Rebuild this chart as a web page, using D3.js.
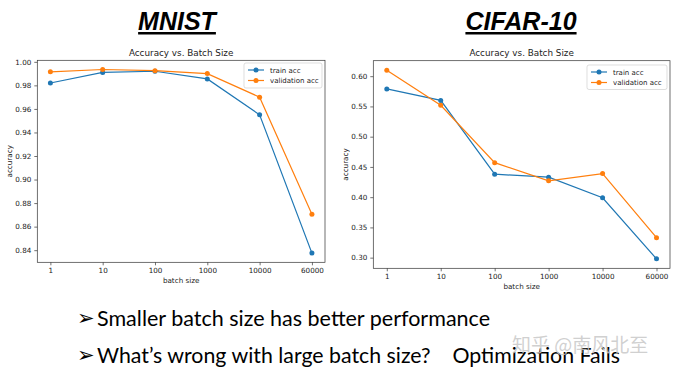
<!DOCTYPE html>
<html lang="en">
<head>
<meta charset="UTF-8">
<title>Accuracy vs. Batch Size</title>
<script src="https://d3js.org/d3.v7.min.js"></script>
<style>
  body { margin: 0; background: #fff; }
  svg { display: block; }
  .mpl text { font-family: "DejaVu Sans", sans-serif; fill: #222; }
</style>
</head>
<body>
<div id="chart"></div>
<script>
// batch sizes shared by both panels
const batchSizes = ["1", "10", "100", "1000", "10000", "60000"];

// MNIST
const mnistTrain = [0.982, 0.991, 0.992, 0.9855, 0.955, 0.8375];
const mnistVal = [0.9915, 0.9935, 0.9925, 0.990, 0.970, 0.8705];
const mnistTicks = [0.84, 0.86, 0.88, 0.90, 0.92, 0.94, 0.96, 0.98, 1.00];

// CIFAR-10
const cifarTrain = [0.579, 0.560, 0.438, 0.433, 0.399, 0.298];
const cifarVal = [0.610, 0.552, 0.457, 0.427, 0.439, 0.333];
const cifarTicks = [0.30, 0.35, 0.40, 0.45, 0.50, 0.55, 0.60];

const seriesNames = ["train acc", "validation acc"];
const colors = ["#1f77b4", "#ff7f0e"];

const W = 678, H = 372;
const svg = d3.select("#chart").append("svg")
    .attr("width", W).attr("height", H);

// one matplotlib-style panel
function drawPanel(box, train, val, ticks, legendBox) {
    const g = svg.append("g").attr("class", "mpl");

    // matplotlib autoscale: 5% margin on both axes
    const allVals = train.concat(val);
    const lo = d3.min(allVals), hi = d3.max(allVals), pad = (hi - lo) * 0.05;
    const step = (box.right - box.left) / 5.5;

    const x = d3.scalePoint().domain(batchSizes)
        .range([box.left + step * 0.25, box.right - step * 0.25]);
    const y = d3.scaleLinear().domain([lo - pad, hi + pad])
        .range([box.bottom, box.top]);

    // axes
    const xAxis = g.append("g")
        .attr("transform", `translate(0,${box.bottom})`)
        .call(d3.axisBottom(x).tickSize(3).tickPadding(3));
    const yAxis = g.append("g")
        .attr("transform", `translate(${box.left},0)`)
        .call(d3.axisLeft(y).tickValues(ticks).tickFormat(d3.format(".2f")).tickSize(3).tickPadding(3));
    [xAxis, yAxis].forEach(a => {
        a.select(".domain").remove();
        a.selectAll("line").attr("stroke", "#333").attr("stroke-width", 0.7);
        a.selectAll("text").style("font-size", "7.2px")
            .style("font-family", "'DejaVu Sans', sans-serif").attr("fill", "#222");
    });

    // frame
    g.append("rect")
        .attr("x", box.left).attr("y", box.top)
        .attr("width", box.right - box.left).attr("height", box.bottom - box.top)
        .attr("fill", "none").attr("stroke", "#333").attr("stroke-width", 0.7);

    // title and labels
    const cx = (box.left + box.right) / 2;
    g.append("text").attr("x", cx).attr("y", box.top - 4.5)
        .attr("text-anchor", "middle").style("font-size", "8.8px")
        .text("Accuracy vs. Batch Size");
    g.append("text").attr("x", cx).attr("y", box.bottom + 21)
        .attr("text-anchor", "middle").style("font-size", "7.2px")
        .text("batch size");
    g.append("text")
        .attr("transform", `translate(${box.left - 25},${(box.top + box.bottom) / 2}) rotate(-90)`)
        .attr("text-anchor", "middle").style("font-size", "7.2px")
        .text("accuracy");

    // lines and markers
    const line = d3.line().x((d, i) => x(batchSizes[i])).y(d => y(d));
    [train, val].forEach((s, k) => {
        g.append("path").datum(s)
            .attr("d", line).attr("fill", "none")
            .attr("stroke", colors[k]).attr("stroke-width", 1.2);
        g.selectAll(null).data(s).enter().append("circle")
            .attr("cx", (d, i) => x(batchSizes[i])).attr("cy", d => y(d))
            .attr("r", 2.5).attr("fill", colors[k]);
    });

    // legend
    const lg = g.append("g");
    lg.append("rect")
        .attr("x", legendBox.x).attr("y", legendBox.y)
        .attr("width", legendBox.w).attr("height", legendBox.h)
        .attr("rx", 2).attr("fill", "#fff").attr("fill-opacity", 0.8)
        .attr("stroke", "#d0d0d0").attr("stroke-width", 0.7);
    seriesNames.forEach((name, k) => {
        const ly = legendBox.y + 7 + k * 10.5;
        const lx = legendBox.x + 4;
        lg.append("line").attr("x1", lx).attr("x2", lx + 16)
            .attr("y1", ly).attr("y2", ly)
            .attr("stroke", colors[k]).attr("stroke-width", 1.2);
        lg.append("circle").attr("cx", lx + 8).attr("cy", ly).attr("r", 2.5)
            .attr("fill", colors[k]);
        lg.append("text").attr("x", lx + 22).attr("y", ly + 2.6)
            .style("font-size", "7px").text(name);
    });
}

drawPanel({ left: 37.3, right: 325, top: 60.3, bottom: 262.3 },
    mnistTrain, mnistVal, mnistTicks,
    { x: 244, y: 63, w: 78, h: 25 });

drawPanel({ left: 373.3, right: 670, top: 60.7, bottom: 268.3 },
    cifarTrain, cifarVal, cifarTicks,
    { x: 587, y: 65, w: 80, h: 24.5 });

// big panel titles
[["MNIST", 177], ["CIFAR-10", 521]].forEach(([t, cx]) => {
    svg.append("text").attr("x", cx).attr("y", 30)
        .attr("text-anchor", "middle")
        .style("font-family", "'Liberation Sans', Arial, sans-serif")
        .style("font-size", "25px").style("font-weight", "bold")
        .style("font-style", "italic").style("text-decoration", "underline")
        .attr("fill", "#000").text(t);
});

// bullet lines
const bullets = [
    { text: "Smaller batch size has better performance", y: 326, len: 393 },
    { text: "What\u2019s wrong with large batch size?\u00a0\u00a0\u00a0\u00a0Optimization Fails", y: 363, len: 523 }
];
bullets.forEach(b => {
    svg.append("text").attr("x", 77).attr("y", b.y - 1)
        .style("font-family", "'DejaVu Sans', sans-serif").style("font-size", "21px")
        .attr("fill", "#000").text("\u27a2");
    svg.append("text").attr("x", 97).attr("y", b.y)
        .attr("textLength", b.len).attr("lengthAdjust", "spacingAndGlyphs")
        .style("font-family", "Lato, 'Open Sans', sans-serif").style("font-size", "21px")
        .attr("fill", "#000").text(b.text);
});

// watermark
svg.append("text").attr("x", 512).attr("y", 352)
    .style("font-family", "'Noto Sans CJK SC', sans-serif").style("font-size", "19px")
    .attr("fill", "#c8c8c8").attr("fill-opacity", 0.85).text("知乎 @南风北至");
</script>
</body>
</html>
